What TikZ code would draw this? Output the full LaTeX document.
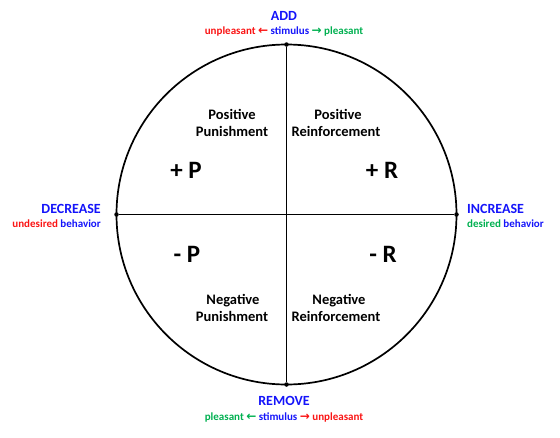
\documentclass[tikz,border=0pt]{standalone}
\usepackage{fontspec}
\setmainfont{Carlito}
\newfontfamily\arr{DejaVu Sans}
\definecolor{cblue}{RGB}{20,20,250}
\definecolor{cred}{RGB}{250,20,20}
\definecolor{cgreen}{RGB}{0,176,80}
\begin{document}
\begin{tikzpicture}[x=1pt,y=-1pt,
  head/.style={font=\bfseries\fontsize{14}{16}\selectfont,text=cblue,inner sep=0pt,anchor=base},
  sub/.style={font=\bfseries\fontsize{11}{13}\selectfont,inner sep=0pt,anchor=base},
  quad/.style={font=\bfseries\fontsize{14.5}{17}\selectfont,inner sep=0pt,anchor=base},
  sym/.style={font=\bfseries\fontsize{25}{28}\selectfont,inner sep=0pt,anchor=base},
  dot/.style={circle,fill=black,inner sep=0pt,minimum size=4.5pt},
  rule/.style={line width=1.7pt}]
\useasboundingbox (0,0) rectangle (560,437);
\coordinate (c) at (286.5,214.5);
\draw[rule] (c) circle[radius=170];
\node[dot] (top) at (286.5,44.5) {};
\node[dot] (bot) at (286.5,384.5) {};
\node[dot] (lft) at (116.5,214.5) {};
\node[dot] (rgt) at (456.5,214.5) {};
\draw[rule] (top) -- (bot);
\draw[rule] (lft) -- (rgt);
% top
\node[head] (add) at (284,20) {ADD};
\node[sub] (addsub) at (284,34) {\textcolor{cred}{unpleasant {\arr\fontsize{12}{13}\selectfont←}} \textcolor{cblue}{stimulus} \textcolor{cgreen}{{\arr\fontsize{12}{13}\selectfont→} pleasant}};
% bottom
\node[head] (rem) at (284,405) {REMOVE};
\node[sub] (remsub) at (284,420) {\textcolor{cgreen}{pleasant {\arr\fontsize{12}{13}\selectfont←}} \textcolor{cblue}{stimulus} \textcolor{cred}{{\arr\fontsize{12}{13}\selectfont→} unpleasant}};
% left
\node[head,anchor=base east] (dec) at (101,213) {DECREASE};
\node[sub,anchor=base east] (decsub) at (101,227) {\textcolor{cred}{undesired} \textcolor{cblue}{behavior}};
% right
\node[head,anchor=base west] (inc) at (467,213) {INCREASE};
\node[sub,anchor=base west] (incsub) at (467,227) {\textcolor{cgreen}{desired} \textcolor{cblue}{behavior}};
% quadrants
\node[quad] (ppa) at (232,119) {Positive};
\node[quad] (ppb) at (232,136) {Punishment};
\node[quad] (pra) at (338,119) {Positive};
\node[quad] (prb) at (336,136) {Reinforcement};
\node[quad] (npa) at (233,304) {Negative};
\node[quad] (npb) at (232,321) {Punishment};
\node[quad] (nra) at (339,304) {Negative};
\node[quad] (nrb) at (336,321) {Reinforcement};
\node[sym] (plusp) at (186,178.5) {+ P};
\node[sym] (plusr) at (382,178.5) {+ R};
\node[sym] (minp) at (187,262) {- P};
\node[sym] (minr) at (383,262) {- R};
\end{tikzpicture}
\end{document}
